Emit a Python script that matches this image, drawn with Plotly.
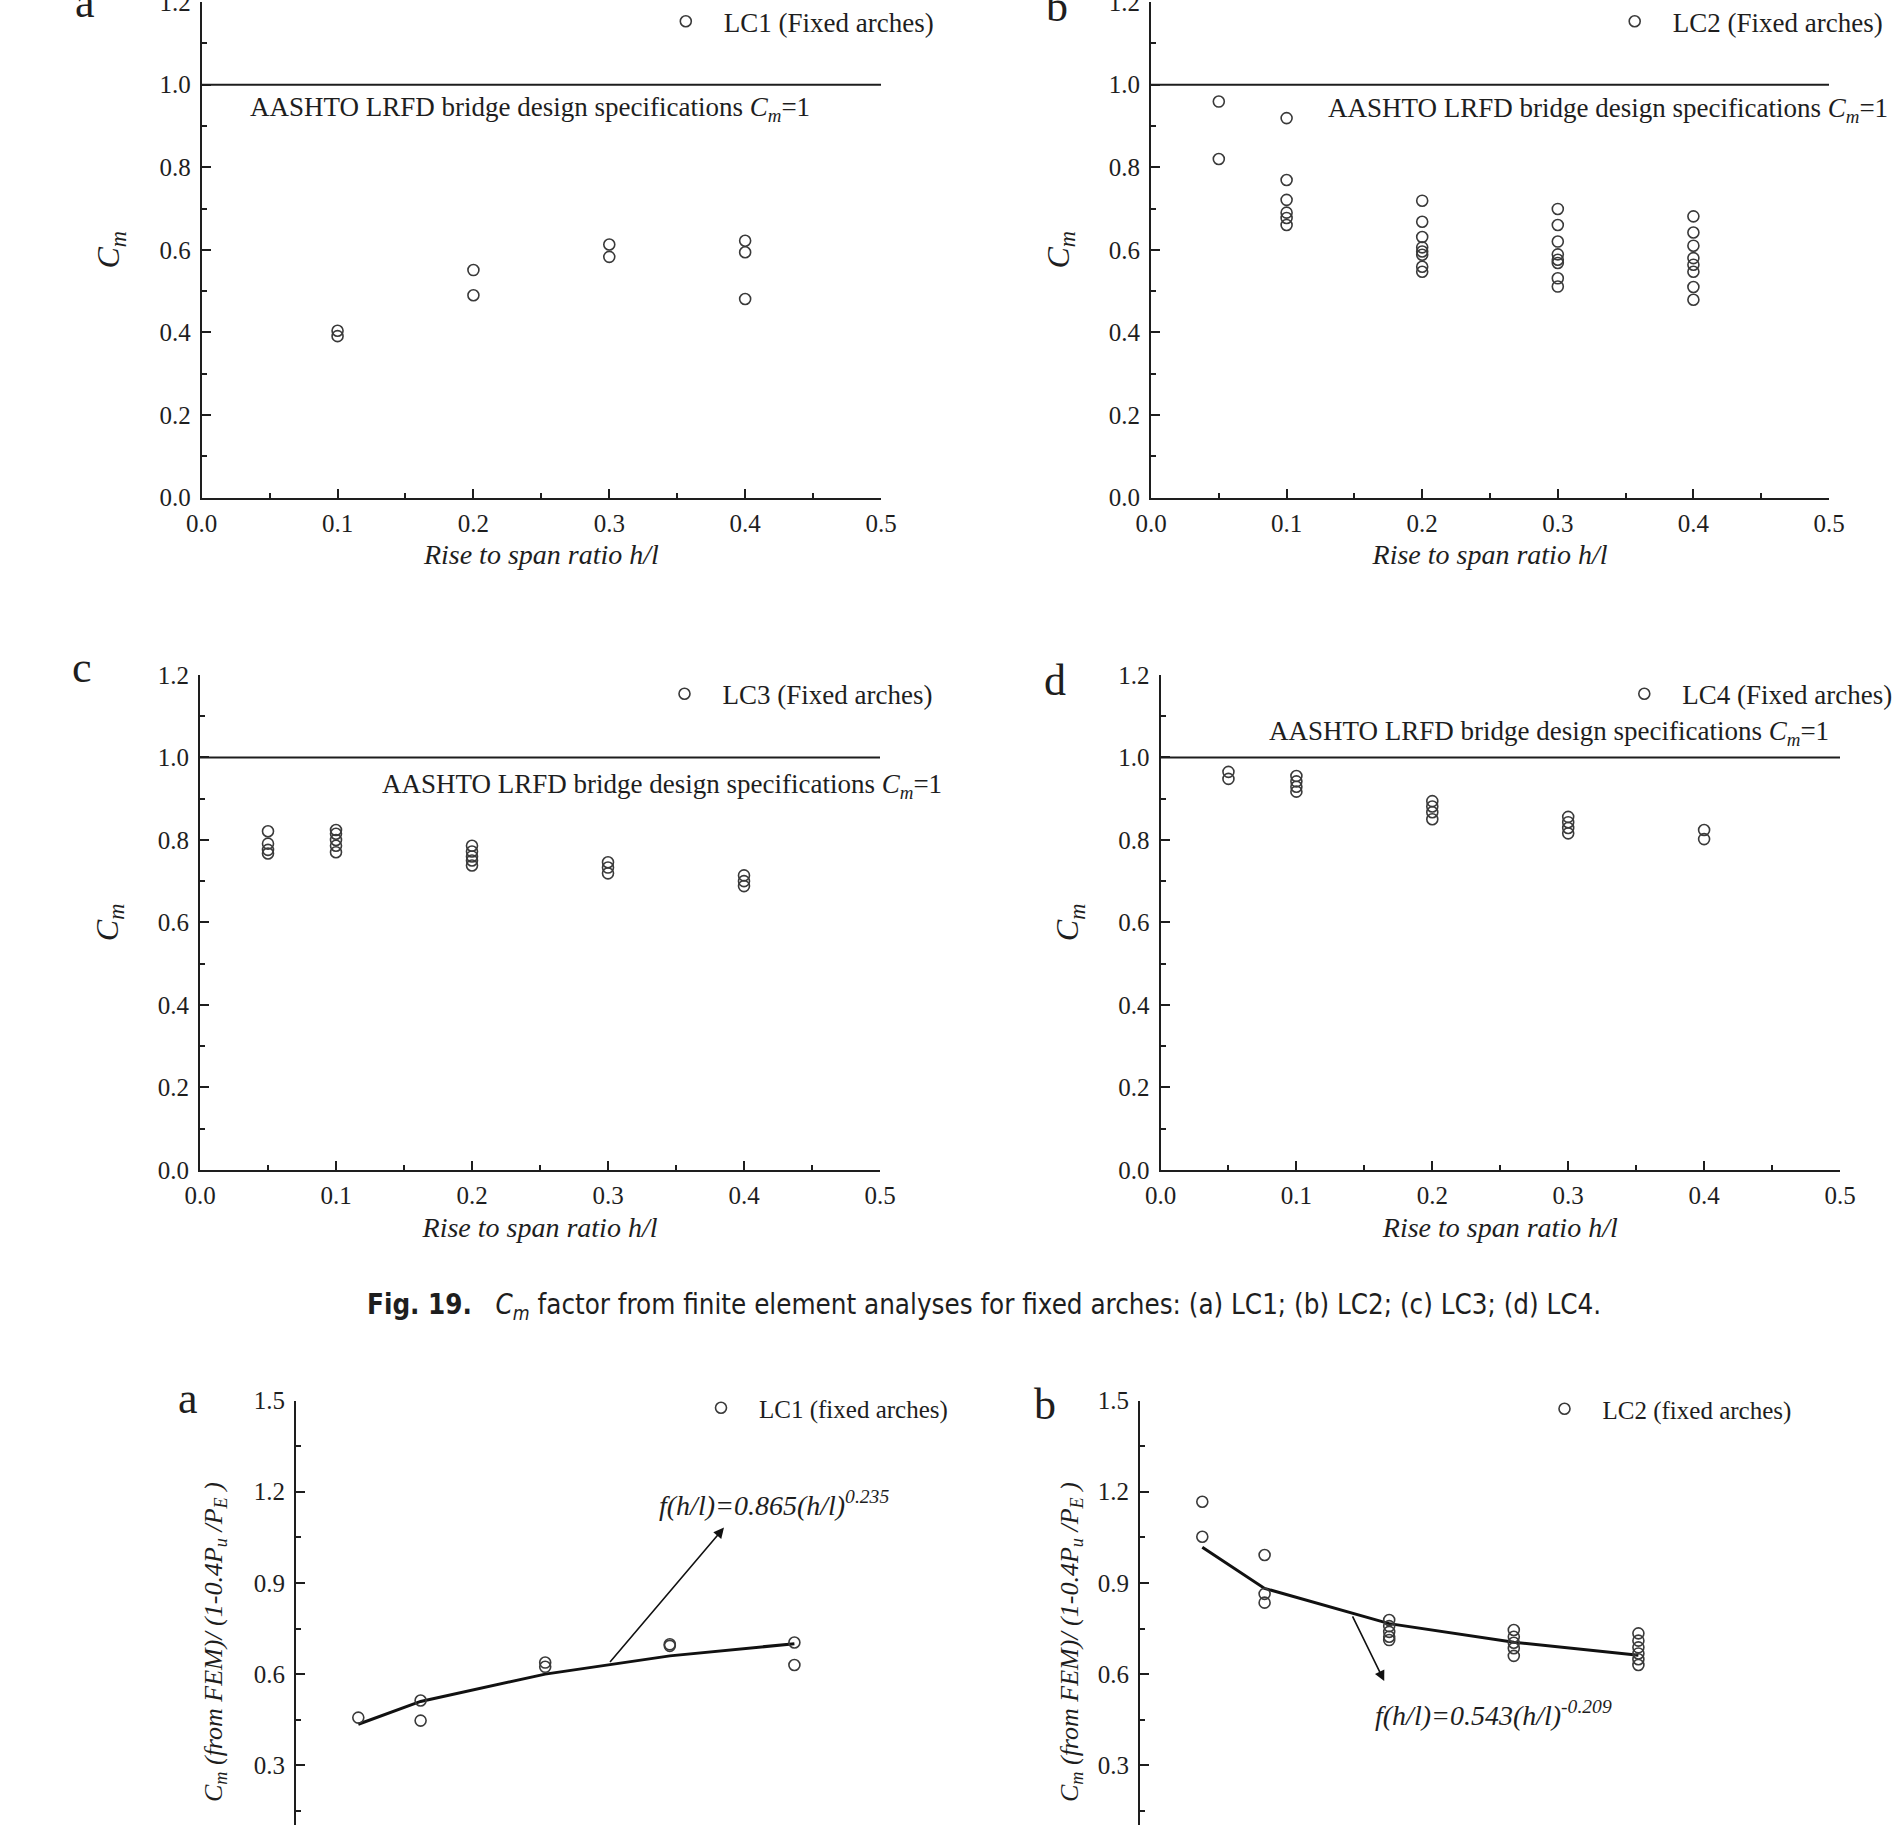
import plotly.graph_objects as go

# ---------------- data ----------------
# Fig. 19 (a) LC1
hl_lc1 = [0.1, 0.1, 0.2, 0.2, 0.3, 0.3, 0.4, 0.4, 0.4]
cm_lc1 = [0.404, 0.391, 0.551, 0.490, 0.613, 0.583, 0.622, 0.594, 0.481]
# Fig. 19 (b) LC2
hl_lc2 = [0.05, 0.05,
          0.1, 0.1, 0.1, 0.1, 0.1, 0.1,
          0.2, 0.2, 0.2, 0.2, 0.2, 0.2, 0.2, 0.2,
          0.3, 0.3, 0.3, 0.3, 0.3, 0.3, 0.3, 0.3,
          0.4, 0.4, 0.4, 0.4, 0.4, 0.4, 0.4, 0.4]
cm_lc2 = [0.959, 0.820,
          0.919, 0.769, 0.721, 0.690, 0.677, 0.660,
          0.719, 0.668, 0.631, 0.606, 0.596, 0.588, 0.559, 0.547,
          0.699, 0.660, 0.620, 0.589, 0.576, 0.568, 0.531, 0.511,
          0.681, 0.642, 0.610, 0.580, 0.564, 0.547, 0.510, 0.479]
# Fig. 19 (c) LC3
hl_lc3 = [0.05, 0.05, 0.05, 0.05,
          0.1, 0.1, 0.1, 0.1, 0.1,
          0.2, 0.2, 0.2, 0.2, 0.2,
          0.3, 0.3, 0.3,
          0.4, 0.4, 0.4]
cm_lc3 = [0.821, 0.791, 0.776, 0.767,
          0.824, 0.815, 0.800, 0.786, 0.770,
          0.786, 0.772, 0.760, 0.750, 0.738,
          0.746, 0.733, 0.719,
          0.714, 0.700, 0.688]
# Fig. 19 (d) LC4
hl_lc4 = [0.05, 0.05,
          0.1, 0.1, 0.1, 0.1,
          0.2, 0.2, 0.2, 0.2,
          0.3, 0.3, 0.3, 0.3,
          0.4, 0.4]
cm_lc4 = [0.965, 0.948,
          0.955, 0.942, 0.929, 0.917,
          0.894, 0.881, 0.867, 0.850,
          0.856, 0.843, 0.829, 0.816,
          0.824, 0.802]
# AASHTO LRFD reference value
spec_x = [0.0, 0.5]
spec_cm = [1.0, 1.0]

# Fig. 20 (a) LC1 normalised
hl_n1 = [0.05, 0.1, 0.1, 0.2, 0.2, 0.3, 0.3, 0.4, 0.4]
cmn_lc1 = [0.457, 0.513, 0.447, 0.638, 0.624, 0.698, 0.693, 0.704, 0.630]
fit_hl = [0.05, 0.1, 0.2, 0.3, 0.4]
fit_lc1 = [0.435, 0.510, 0.600, 0.660, 0.700]
# Fig. 20 (b) LC2 normalised
hl_n2 = [0.05, 0.05,
         0.1, 0.1, 0.1,
         0.2, 0.2, 0.2, 0.2, 0.2,
         0.3, 0.3, 0.3, 0.3, 0.3,
         0.4, 0.4, 0.4, 0.4, 0.4, 0.4]
cmn_lc2 = [1.167, 1.052,
           0.992, 0.864, 0.835,
           0.778, 0.758, 0.739, 0.723, 0.712,
           0.745, 0.723, 0.703, 0.685, 0.660,
           0.734, 0.710, 0.688, 0.668, 0.649, 0.630]
fit_lc2 = [1.017, 0.882, 0.766, 0.705, 0.662]

# ---------------- styling ----------------
W, H = 1893, 1825
SERIF = "Liberation Serif, Times New Roman, serif"
INK = "#1e1e1e"
MK = "#3a3a3a"


def px_x(a, b):
    return [a / W, b / W]


def px_y(top, bottom):
    return [1 - bottom / H, 1 - top / H]


def xaxis(domain, anchor, show=True):
    d = dict(domain=domain, anchor=anchor, range=[0, 0.5], dtick=0.1, tick0=0,
             tickformat=".1f", showgrid=False, zeroline=False,
             showline=show, linewidth=2, linecolor=INK,
             ticks="inside" if show else "", ticklen=9, tickwidth=2, tickcolor=INK,
             showticklabels=show, ticklabelstandoff=2,
             tickfont=dict(family=SERIF, size=25, color=INK))
    if show:
        d["minor"] = dict(dtick=0.05, tick0=0, ticks="inside", ticklen=5,
                          tickwidth=2, tickcolor=INK, showgrid=False)
        d["title"] = dict(text="<i>Rise to span ratio h/l</i>", standoff=9,
                          font=dict(family=SERIF, size=28, color=INK))
    return d


def yaxis(domain, anchor, rng, dtick, mdtick, title, standoff, tsize=32):
    return dict(domain=domain, anchor=anchor, range=rng, dtick=dtick, tick0=0,
                tickformat=".1f", showgrid=False, zeroline=False,
                showline=True, linewidth=2, linecolor=INK,
                ticks="inside", ticklen=9, tickwidth=2, tickcolor=INK,
                ticklabelstandoff=4, ticklabeloverflow="allow",
                tickfont=dict(family=SERIF, size=25, color=INK),
                minor=dict(dtick=mdtick, tick0=0, ticks="inside", ticklen=5,
                           tickwidth=2, tickcolor=INK, showgrid=False),
                title=dict(text=title, standoff=standoff,
                           font=dict(family=SERIF, size=tsize, color=INK)))


fig = go.Figure()

marker = dict(symbol="circle-open", size=11, color=MK, line=dict(width=1.6, color=MK))

panels = [
    ("x", "y", hl_lc1, cm_lc1, "LC1 (Fixed arches)", "legend"),
    ("x2", "y2", hl_lc2, cm_lc2, "LC2 (Fixed arches)", "legend2"),
    ("x3", "y3", hl_lc3, cm_lc3, "LC3 (Fixed arches)", "legend3"),
    ("x4", "y4", hl_lc4, cm_lc4, "LC4 (Fixed arches)", "legend4"),
]
for xa, ya, hx, cy, name, lg in panels:
    fig.add_trace(go.Scatter(x=spec_x, y=spec_cm, mode="lines", xaxis=xa, yaxis=ya,
                             line=dict(color=INK, width=2), showlegend=False,
                             hoverinfo="skip"))
    fig.add_trace(go.Scatter(x=hx, y=cy, mode="markers", name=name, xaxis=xa, yaxis=ya,
                             marker=marker, legend=lg))

fig.add_trace(go.Scatter(x=fit_hl, y=fit_lc1, mode="lines", xaxis="x5", yaxis="y5",
                         line=dict(color="#111", width=3), showlegend=False))
fig.add_trace(go.Scatter(x=hl_n1, y=cmn_lc1, mode="markers", name="LC1 (fixed arches)",
                         xaxis="x5", yaxis="y5", marker=marker, legend="legend5"))
fig.add_trace(go.Scatter(x=fit_hl, y=fit_lc2, mode="lines", xaxis="x6", yaxis="y6",
                         line=dict(color="#111", width=3), showlegend=False))
fig.add_trace(go.Scatter(x=hl_n2, y=cmn_lc2, mode="markers", name="LC2 (fixed arches)",
                         xaxis="x6", yaxis="y6", marker=marker, legend="legend6"))

cm_title = "<i>C</i><sub><i>m</i></sub>"
norm_title = ("<i>C</i><sub><i>m</i></sub><i> (from FEM)/ (1-0.4P</i><sub><i>u</i></sub>"
              "<i> /P</i><sub><i>E</i></sub><i> )</i>")

top_y = px_y(2, 497.6)
mid_y = px_y(674.9, 1169.9)
bot_y = [0, 1 - 1400.5 / H]
RNG12 = [0, 1.2001]

layout_axes = dict(
    xaxis=xaxis(px_x(201.7, 881), "y"),
    yaxis=yaxis(top_y, "x", RNG12, 0.2, 0.1, cm_title, 30),
    xaxis2=xaxis(px_x(1151, 1829), "y2"),
    yaxis2=yaxis(top_y, "x2", RNG12, 0.2, 0.1, cm_title, 30),
    xaxis3=xaxis(px_x(200, 880), "y3"),
    yaxis3=yaxis(mid_y, "x3", RNG12, 0.2, 0.1, cm_title, 30),
    xaxis4=xaxis(px_x(1160.5, 1840), "y4"),
    yaxis4=yaxis(mid_y, "x4", RNG12, 0.2, 0.1, cm_title, 30),
    xaxis5=xaxis(px_x(296, 919), "y5", show=False),
    yaxis5=yaxis(bot_y, "x5", [0.1036, 1.5001], 0.3, 0.15, "", 26),
    xaxis6=xaxis(px_x(1140, 1763), "y6", show=False),
    yaxis6=yaxis(bot_y, "x6", [0.1036, 1.5001], 0.3, 0.15, "", 26),
)


def legend_at(cx, cy, size=27):
    return dict(x=(cx - 38) / W, y=1 - cy / H, xanchor="left", yanchor="middle",
                bgcolor="rgba(0,0,0,0)", itemwidth=66, borderwidth=0,
                font=dict(family=SERIF, size=size, color=INK))


ann = []


def txt(text, x, y, xref, yref, size=27, xanchor="left", yanchor="middle",
        family=SERIF, angle=0):
    ann.append(dict(text=text, x=x, y=y, xref=xref, yref=yref, showarrow=False,
                    xanchor=xanchor, yanchor=yanchor, textangle=angle,
                    font=dict(family=family, size=size, color=INK)))


spec_txt = "AASHTO LRFD bridge design specifications <i>C</i><sub><i>m</i></sub>=1"
txt(spec_txt, 0.034, 0.942, "x", "y")
txt(spec_txt, 0.129, 0.939, "x2", "y2")
txt(spec_txt, 0.132, 0.931, "x3", "y3")
txt(spec_txt, 0.078, 1.060, "x4", "y4")

# panel letters
for letter, cx, cy in [("a", 85, 2), ("b", 1057, 6), ("c", 82, 668), ("d", 1055, 680),
                       ("a", 188, 1398), ("b", 1045, 1404)]:
    txt(letter, cx / W, 1 - cy / H, "paper", "paper", size=44, xanchor="center")

# bottom-row y titles
txt(norm_title, 215 / W, 1 - 1642 / H, "paper", "paper", size=26,
    xanchor="center", angle=-90)
txt(norm_title, 1071 / W, 1 - 1642 / H, "paper", "paper", size=26,
    xanchor="center", angle=-90)

# caption
txt("<b>Fig. 19.</b>   <i>C</i><sub><i>m</i></sub> factor from finite element analyses for "
    "fixed arches: (a) LC1; (b) LC2; (c) LC3; (d) LC4.",
    984 / W, 1 - 1306 / H, "paper", "paper", size=27.5, xanchor="center",
    family="Liberation Sans Narrow, DejaVu Sans Condensed, Roboto Condensed, sans-serif")

# fit formulas and arrows
txt("<i>f(h/l)=0.865(h/l)</i><sup><i>0.235</i></sup>", 0.384, 1.160, "x5", "y5",
    size=28, xanchor="center")
txt("<i>f(h/l)=0.543(h/l)</i><sup><i>-0.209</i></sup>", 0.284, 0.470, "x6", "y6",
    size=28, xanchor="center")
ann.append(dict(x=0.3435, y=1.082, ax=0.251, ay=0.635, xref="x5", yref="y5",
                axref="x5", ayref="y5", text="", showarrow=True, arrowhead=2,
                arrowsize=1.3, arrowwidth=1.6, arrowcolor="#111"))
ann.append(dict(x=0.196, y=0.577, ax=0.170, ay=0.795, xref="x6", yref="y6",
                axref="x6", ayref="y6", text="", showarrow=True, arrowhead=2,
                arrowsize=1.3, arrowwidth=1.6, arrowcolor="#111"))

fig.update_layout(
    width=W, height=H,
    margin=dict(l=0, r=0, t=0, b=0, pad=0, autoexpand=False),
    paper_bgcolor="white", plot_bgcolor="white",
    font=dict(family=SERIF, color=INK),
    legend=legend_at(685.8, 21.7),
    legend2=legend_at(1634.7, 21.7),
    legend3=legend_at(684.5, 694.2),
    legend4=legend_at(1644.3, 694.2),
    legend5=legend_at(721, 1408, 25),
    legend6=legend_at(1564.5, 1409, 25),
    annotations=ann,
    **layout_axes,
)

fig.write_html("out.html")
